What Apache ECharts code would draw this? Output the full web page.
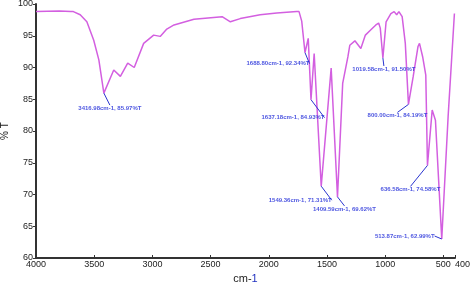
<!DOCTYPE html>
<html><head><meta charset="utf-8">
<script src="https://cdn.jsdelivr.net/npm/echarts@6/dist/echarts.min.js"></script>
<style>html,body{margin:0;padding:0;background:#fff}#c{width:474px;height:286px}</style>
</head><body><div id="c"></div>
<script>
// Spectrum (wavenumber cm-1, %T)
const wavenumbers = [4000,3800,3700,3679,3620,3563,3504,3460,3416.98,3332,3275,3212,3156,3075,2989,2933,2880,2814,2643,2401,2330,2245,2074,1931,1760,1740,1717,1688.80,1661,1637.18,1610,1549.36,1464,1409.59,1365,1320,1304,1260,1209,1170,1125,1080,1056,1042,1019.58,992,951,923,901,882,854,827,800.00,759,718,705,678,651,636.58,596,568,513.87,459,405];
const transmittance = [98.8,98.9,98.8,98.8,98.3,97.2,94.3,91.2,85.97,89.6,88.6,90.7,90.0,93.8,95.1,94.9,96.0,96.7,97.6,98.0,97.2,97.7,98.3,98.6,98.8,98.8,97.3,92.34,94.6,84.93,92.2,71.31,89.9,69.62,87.5,91.7,93.5,94.2,93.0,95.1,95.9,96.7,97.0,96.2,91.50,97.2,98.5,98.8,98.3,98.8,98.0,93.8,84.19,88.6,93.3,93.8,91.7,88.8,74.58,83.3,81.7,62.99,82.3,98.5];
// Annotated peaks
const peakWavenumbers = [3416.98,1688.80,1637.18,1549.36,1409.59,1019.58,800.00,636.58,513.87];
const peakTransmittance = [85.97,92.34,84.93,71.31,69.62,91.50,84.19,74.58,62.99];
const peakLabels = ['3416.98cm-1, 85.97%T','1688.80cm-1, 92.34%T','1637.18cm-1, 84.93%T','1549.36cm-1, 71.31%T','1409.59cm-1, 69.62%T','1019.58cm-1, 91.50%T','800.00cm-1, 84.19%T','636.58cm-1, 74.58%T','513.87cm-1, 62.99%T'];
const xTicks = [4000,3500,3000,2500,2000,1500,1000,500,400];
const yTicks = [60,65,70,75,80,85,90,95,100];

// label offsets (layout only)
const labelOffsets = [[6,15],[-27,11],[-18,18],[-21,14],[7,12],[1,11],[-11,11],[-17,24],[-37,-3]];

const chart = echarts.init(document.getElementById('c'), null, {renderer:'canvas'});
const spec = wavenumbers.map((w,i)=>[w, transmittance[i]]);
const peaks = peakWavenumbers.map((w,i)=>({value:[w, peakTransmittance[i]], name: peakLabels[i]}));
const axisFont = 'Liberation Sans Narrow, Arial Narrow, sans-serif';
chart.setOption({
  animation:false,
  backgroundColor:'#fff',
  grid:{left:36,right:19,top:4,bottom:28,containLabel:false,outerBoundsMode:'none'},
  xAxis:{
    type:'value', inverse:true, min:400, max:4000,
    name:'{a|cm-}{b|1}', nameLocation:'middle', nameGap:13,
    nameTextStyle:{rich:{a:{color:'#222',fontSize:11,fontFamily:axisFont},b:{color:'#2030c0',fontSize:11,fontFamily:axisFont}}},
    axisLine:{onZero:false,lineStyle:{color:'#333',width:2}},
    axisTick:{inside:true,length:3,lineStyle:{color:'#333'},customValues:xTicks},
    axisLabel:{customValues:xTicks,color:'#222',fontSize:9,fontFamily:axisFont,margin:2,
      showMinLabel:true,showMaxLabel:true,hideOverlap:false,alignMaxLabel:'left',
      formatter:v=>String(v)},
    splitLine:{show:false}
  },
  yAxis:{
    type:'value', min:60, max:100, interval:5,
    name:'% T', nameLocation:'middle', nameGap:26, nameRotate:90, nameMoveOverlap:false,
    nameTextStyle:{color:'#222',fontSize:10,fontFamily:axisFont},
    axisLine:{show:true,lineStyle:{color:'#333',width:2}},
    axisTick:{show:true,length:3,lineStyle:{color:'#333'}},
    axisLabel:{color:'#222',fontSize:9,fontFamily:axisFont,margin:3},
    splitLine:{show:false}
  },
  series:[
    {type:'line',data:spec,showSymbol:false,symbol:'none',lineStyle:{color:'#d35fe0',width:1.5},z:2},
    {type:'scatter',data:peaks,symbolSize:0.1,z:3,
      label:{show:true,position:'inside',formatter:p=>p.name,color:'#1f2ad8',fontSize:6,fontWeight:'bold',fontFamily:axisFont},
      labelLine:{show:true,lineStyle:{color:'#2a35d0',width:1}},
      labelLayout:function(p){const o=labelOffsets[p.dataIndex];return {dx:o[0],dy:o[1]};}
    }
  ]
});
</script></body></html>
